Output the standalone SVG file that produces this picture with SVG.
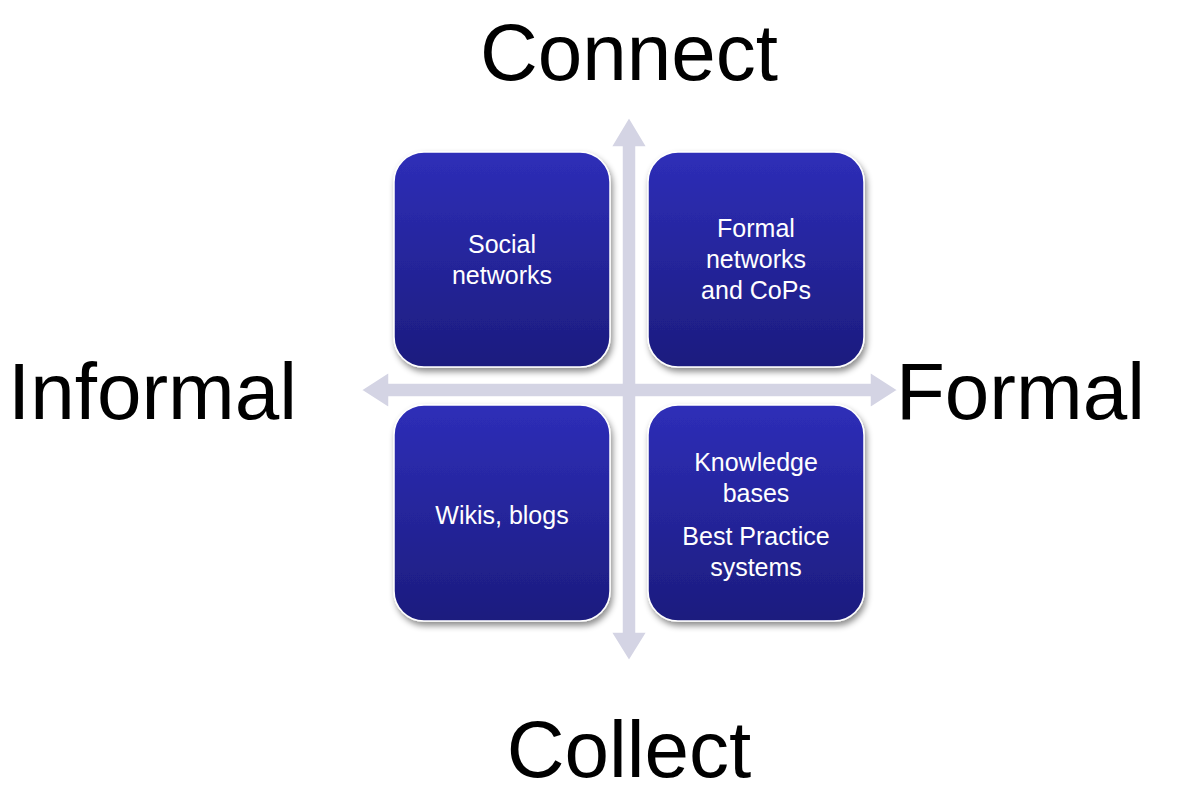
<svg xmlns="http://www.w3.org/2000/svg" width="1185" height="794" viewBox="0 0 1185 794">
<defs>
<linearGradient id="g" x1="0" y1="0" x2="0" y2="1"><stop offset="0" stop-color="#2e2eb8"/><stop offset="1" stop-color="#1c1c7e"/></linearGradient>
<filter id="sh" x="-10%" y="-10%" width="130%" height="130%"><feDropShadow dx="2" dy="4" stdDeviation="3" flood-opacity="0.45"/></filter>
<style>
.box{fill:url(#g);stroke:#ffffff;stroke-width:1.5;filter:url(#sh)}
.t{fill:#fff;font-family:"Liberation Sans",Arial,sans-serif;font-size:25px;text-anchor:middle}
.big{fill:#000;font-family:"Liberation Sans",Arial,sans-serif;font-size:80px}
.ax{fill:#d4d4e4;stroke:#ffffff;stroke-width:1.5}
</style>
</defs>
<rect width="1185" height="794" fill="#fff"/>
<g id="connectors">
<path class="ax" d="M629,117 L647,147 L636,147 L636,383 L870,383 L870,372 L898,390 L870,408 L870,397 L636,397 L636,632 L647,632 L629,661 L611,632 L622,632 L622,397 L389,397 L389,408 L361,390 L389,372 L389,383 L622,383 L622,147 L611,147 Z"/>
</g>
<g id="n1"><rect class="box" x="394" y="152" width="216" height="215" rx="30"/><text class="t" x="502" y="253">Social</text><text class="t" x="502" y="284">networks</text></g>
<g id="n2"><rect class="box" x="648" y="152" width="216" height="215" rx="30"/><text class="t" x="756" y="237">Formal</text><text class="t" x="756" y="268">networks</text><text class="t" x="756" y="299">and CoPs</text></g>
<g id="n3"><rect class="box" x="394" y="405" width="216" height="216" rx="30"/><text class="t" x="502" y="524">Wikis, blogs</text></g>
<g id="n4"><rect class="box" x="648" y="405" width="216" height="216" rx="30"/><text class="t" x="756" y="471">Knowledge</text><text class="t" x="756" y="502">bases</text><text class="t" x="756" y="545">Best Practice</text><text class="t" x="756" y="576">systems</text></g>
<g id="connect"><text class="big" x="629" y="80" text-anchor="middle">Connect</text></g>
<g id="collect"><text class="big" x="629" y="777" text-anchor="middle">Collect</text></g>
<g id="informal"><text class="big" x="8" y="419">Informal</text></g>
<g id="formal"><text class="big" x="896" y="419">Formal</text></g>
</svg>
